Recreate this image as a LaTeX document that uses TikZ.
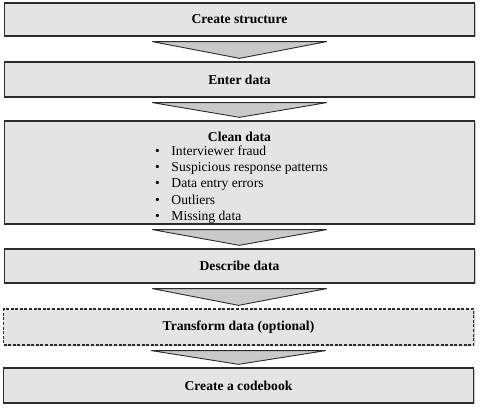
\documentclass[tikz,border=0pt]{standalone}
\usepackage{fontspec}
\setmainfont{Liberation Serif}
\usetikzlibrary{shadows}

\definecolor{boxgray}{HTML}{E4E4E4}
\definecolor{chevgray}{HTML}{C9C9C9}
\definecolor{edgegray}{HTML}{2B2B2B}

\tikzset{
  stage/.style={draw=edgegray, line width=1.3pt, fill=boxgray,
    minimum width=470pt, minimum height=34pt, inner sep=0pt,
    font=\fontsize{13.6}{16}\selectfont\bfseries,
    drop shadow={shadow xshift=1.3pt, shadow yshift=-1.3pt, opacity=0.45}},
  optional/.style={stage, dashed, dash pattern=on 3pt off 1.6pt},
  chev/.style={draw=edgegray, line width=0.9pt, fill=chevgray, line join=round}
}

\begin{document}
\begin{tikzpicture}[x=1pt, y=-1pt]
    \useasboundingbox (0,0) rectangle (480,409);
    % the six steps
    \node[stage, minimum height=33pt] (struct) at (239.5,19.5) {Create structure};
    \node[stage, minimum height=35pt] (enter) at (239.5,79.5) {Enter data};
    \node[stage, minimum height=103pt] (clean) at (239.5,172.5) {};
    \node[stage, minimum height=34pt] (describe) at (239.5,266) {Describe data};
    \node[optional, minimum height=36pt] (transform) at (238.5,327) {Transform data (optional)};
    \node[stage, minimum height=35pt] (codebook) at (238.5,385.5) {Create a codebook};
    % contents of the cleaning step
    \node[font=\fontsize{13.6}{16}\selectfont\bfseries] (cleanT) at (239.5,137) {Clean data};
    \node[anchor=north west, inner sep=0pt, font=\fontsize{13.6}{16.2}\selectfont] (cleanL) at (155,144)
      {\begin{tabular}{@{}l@{\hspace{11.5pt}}l@{}}
         \textbullet & Interviewer fraud\\
         \textbullet & Suspicious response patterns\\
         \textbullet & Data entry errors\\
         \textbullet & Outliers\\
         \textbullet & Missing data
       \end{tabular}};
    % chevrons between the steps
    \foreach \a/\b in {struct/enter, enter/clean, clean/describe, describe/transform, transform/codebook}
      \draw[chev] ([xshift=-87pt, yshift=-5pt]\a.south) -- ([xshift=87pt, yshift=-5pt]\a.south)
        -- ([yshift=3pt]\b.north) -- cycle;
\end{tikzpicture}
\end{document}
